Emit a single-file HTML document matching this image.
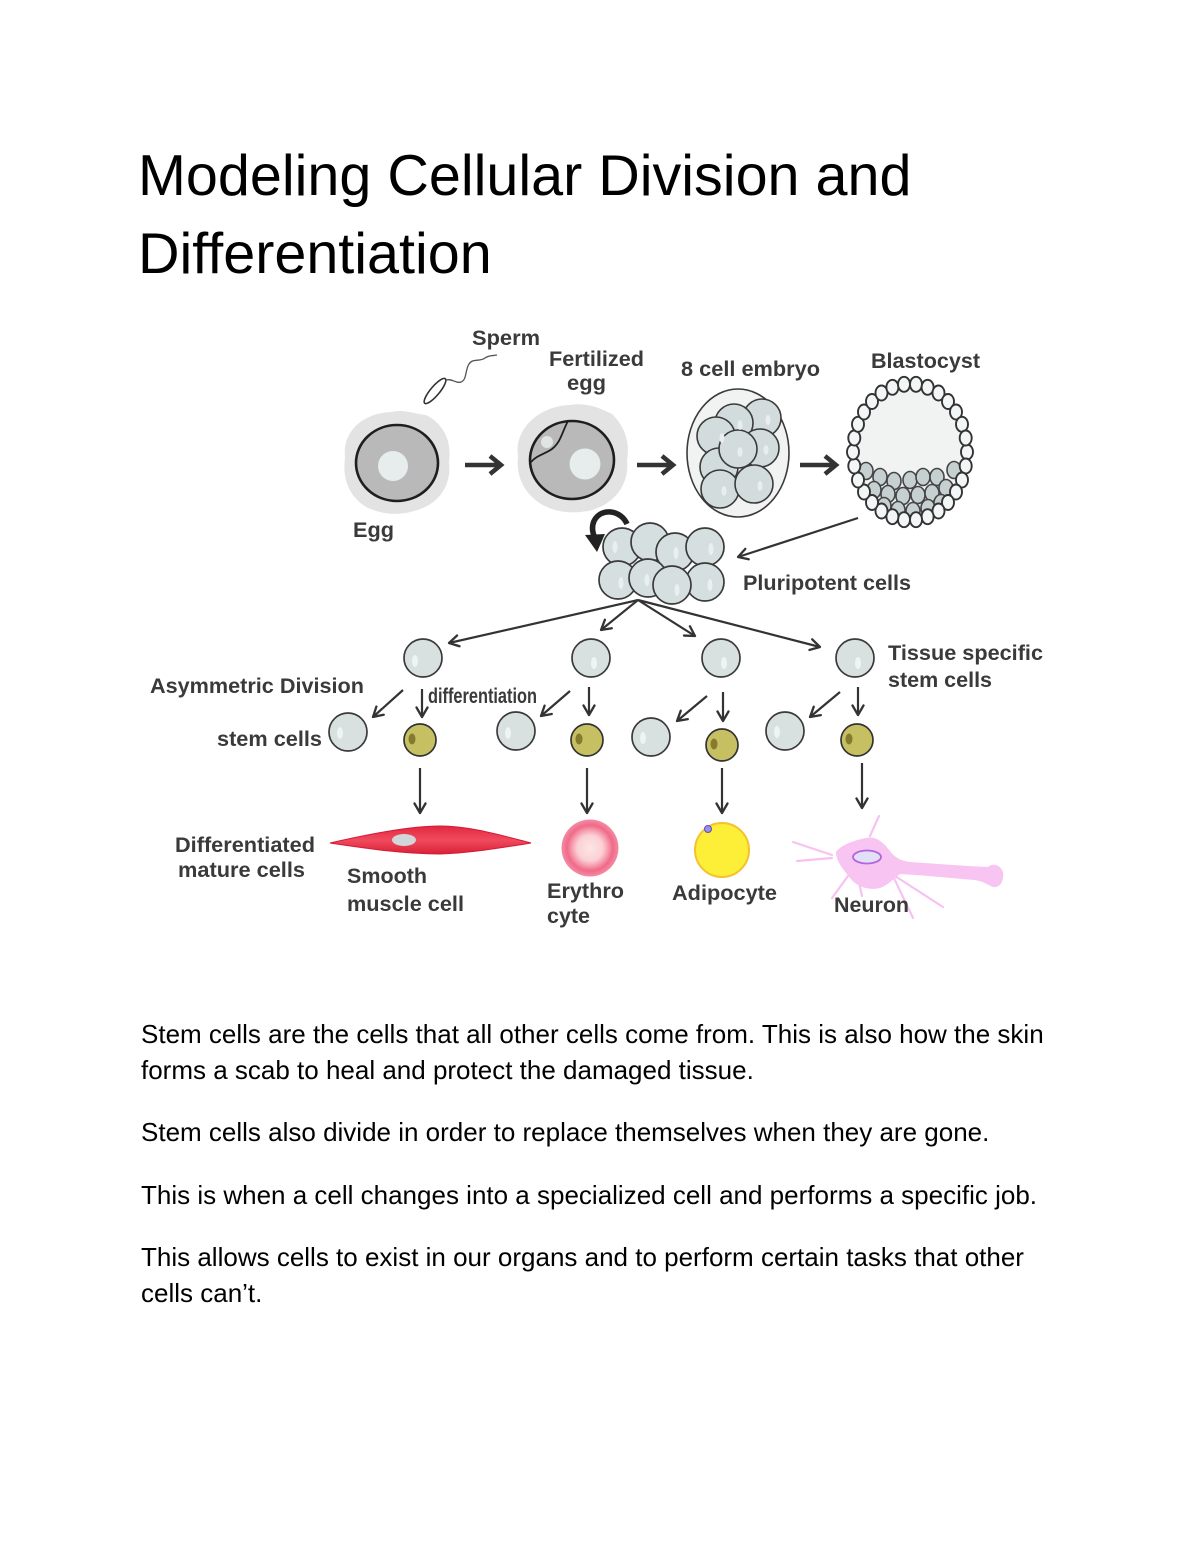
<!DOCTYPE html>
<html>
<head>
<meta charset="utf-8">
<style>
  html,body{margin:0;padding:0;background:#fff;}
  body{width:1200px;height:1553px;overflow:hidden;}
  svg{display:block;}
  .t{font-family:"Liberation Sans",Arial,sans-serif;fill:#000;}
  .l{font-family:"Liberation Sans",Arial,sans-serif;font-weight:bold;fill:#3a3a3a;font-size:21.5px;}
</style>
</head>
<body>
<svg width="1200" height="1553" viewBox="0 0 1200 1553" xmlns="http://www.w3.org/2000/svg">
  <defs>
    <marker id="ah" markerUnits="userSpaceOnUse" markerWidth="16" markerHeight="16" refX="11" refY="7" orient="auto">
      <path d="M1.5,1.5 L11,7 L1.5,12.5" fill="none" stroke="#333" stroke-width="2.3" stroke-linecap="round" stroke-linejoin="round"/>
    </marker>
    <radialGradient id="ery" cx="50%" cy="50%" r="50%">
      <stop offset="0" stop-color="#fde6e6"/>
      <stop offset="0.45" stop-color="#fbd0d4"/>
      <stop offset="0.62" stop-color="#f7a0b2"/>
      <stop offset="0.8" stop-color="#f06a88"/>
      <stop offset="1" stop-color="#f38ca4"/>
    </radialGradient>
    <linearGradient id="sm" x1="0" y1="0" x2="0" y2="1">
      <stop offset="0" stop-color="#e02840"/>
      <stop offset="0.5" stop-color="#f04a5e"/>
      <stop offset="1" stop-color="#d92038"/>
    </linearGradient>
  </defs>

  <!-- Title -->
  <text class="t" x="138" y="195" font-size="57.5">Modeling Cellular Division and</text>
  <text class="t" x="138" y="273" font-size="57.5">Differentiation</text>

  <!-- Labels top -->
  <text class="l" x="472" y="345" textLength="68" lengthAdjust="spacingAndGlyphs">Sperm</text>
  <text class="l" x="549" y="366" textLength="95" lengthAdjust="spacingAndGlyphs">Fertilized</text>
  <text class="l" x="567" y="390" textLength="39" lengthAdjust="spacingAndGlyphs">egg</text>
  <text class="l" x="681" y="376" textLength="139" lengthAdjust="spacingAndGlyphs">8 cell embryo</text>
  <text class="l" x="871" y="368" textLength="109" lengthAdjust="spacingAndGlyphs">Blastocyst</text>
  <text class="l" x="353" y="537" textLength="41" lengthAdjust="spacingAndGlyphs">Egg</text>

  <!-- Sperm -->
  <ellipse cx="435" cy="391" rx="16" ry="4.5" transform="rotate(-50 435 391)" fill="#fff" stroke="#333" stroke-width="1.6"/>
  <path d="M446,380 C452,378 456,384 461,382 C467,380 465,370 469,364 C473,358 480,362 485,358 C489,355 492,356 497,355" fill="none" stroke="#555" stroke-width="1.3"/>

  <!-- Egg -->
  <path d="M345,458 C342,432 362,413 392,412 C404,409 414,414 426,415 C444,424 452,442 449,462 C452,486 438,505 414,511 C398,516 382,514 368,508 C350,498 342,480 345,458 Z" fill="#e3e3e3"/>
  <ellipse cx="397" cy="463" rx="41" ry="38" fill="#b9b9b9" stroke="#1e1e1e" stroke-width="2.6"/>
  <circle cx="393" cy="466" r="15" fill="#e7eded"/>

  <!-- arrow 1 -->
  <path d="M465,465 H500 M490,456 L501,465 L490,474" fill="none" stroke="#333" stroke-width="4.5"/>

  <!-- Fertilized egg -->
  <path d="M518,456 C514,430 538,406 570,405 C586,402 600,408 612,414 C626,428 630,444 627,460 C630,486 612,506 588,511 C570,514 552,512 538,502 C522,490 516,474 518,456 Z" fill="#e3e3e3"/>
  <ellipse cx="572" cy="460" rx="42" ry="39" fill="#b9b9b9" stroke="#1e1e1e" stroke-width="2.6"/>
  <circle cx="585" cy="464" r="15.5" fill="#e7eded"/>
  <circle cx="547" cy="442" r="6" fill="#dfe5e5"/>
  <path d="M568,421 C562,432 561,442 552,449 C545,454 537,455 531,462" fill="none" stroke="#1e1e1e" stroke-width="1.8"/>

  <!-- arrow 2 -->
  <path d="M637,465 H672 M662,456 L673,465 L662,474" fill="none" stroke="#333" stroke-width="4.5"/>

  <!-- 8 cell embryo -->
  <ellipse cx="738" cy="453" rx="51" ry="64" fill="#f1f3f3" stroke="#3a3a3a" stroke-width="1.6"/>
  <g fill="#d3dcdc" stroke="#3a3a3a" stroke-width="1.6">
    <circle cx="762" cy="418" r="19"/>
    <circle cx="734" cy="423" r="19"/>
    <circle cx="760" cy="448" r="19"/>
    <circle cx="716" cy="436" r="19"/>
    <circle cx="719" cy="467" r="19"/>
    <circle cx="720" cy="489" r="19"/>
    <circle cx="738" cy="449" r="19"/>
    <circle cx="754" cy="484" r="19"/>
  </g>
  <g fill="#e8eeee">
    <ellipse cx="768" cy="420" rx="2.5" ry="5"/>
    <ellipse cx="740" cy="425" rx="2.5" ry="5"/>
    <ellipse cx="766" cy="450" rx="2.5" ry="5"/>
    <ellipse cx="722" cy="438" rx="2.5" ry="5"/>
    <ellipse cx="724" cy="491" rx="2.5" ry="5"/>
    <ellipse cx="740" cy="452" rx="2.5" ry="5"/>
    <ellipse cx="760" cy="486" rx="2.5" ry="5"/>
  </g>

  <!-- arrow 3 -->
  <path d="M800,465 H835 M825,456 L836,465 L825,474" fill="none" stroke="#333" stroke-width="4.5"/>

  <!-- Blastocyst -->
  <ellipse cx="910" cy="452" rx="55" ry="66" fill="#f1f3f3"/>
  <g fill="#c6d0d0" stroke="#444" stroke-width="1.6">
    <ellipse cx="866" cy="471" rx="7" ry="8.5"/>
    <ellipse cx="880" cy="477" rx="7" ry="8.5"/>
    <ellipse cx="894" cy="481" rx="7" ry="8.5"/>
    <ellipse cx="910" cy="480" rx="7" ry="8.5"/>
    <ellipse cx="923" cy="477" rx="7" ry="8.5"/>
    <ellipse cx="937" cy="477" rx="7" ry="8.5"/>
    <ellipse cx="954" cy="470" rx="7" ry="8.5"/>
    <ellipse cx="874" cy="490" rx="7" ry="8.5"/>
    <ellipse cx="888" cy="494" rx="7" ry="8.5"/>
    <ellipse cx="903" cy="496" rx="7" ry="8.5"/>
    <ellipse cx="918" cy="495" rx="7" ry="8.5"/>
    <ellipse cx="932" cy="493" rx="7" ry="8.5"/>
    <ellipse cx="946" cy="488" rx="7" ry="8.5"/>
    <ellipse cx="884" cy="506" rx="7" ry="8.5"/>
    <ellipse cx="898" cy="510" rx="7" ry="8.5"/>
    <ellipse cx="913" cy="511" rx="7" ry="8.5"/>
    <ellipse cx="928" cy="508" rx="7" ry="8.5"/>
    <ellipse cx="941" cy="503" rx="7" ry="8.5"/>
  </g>
  <g fill="#f3f6f6" stroke="#333" stroke-width="1.9">
    <ellipse cx="967" cy="452" rx="6" ry="7.5"/>
    <ellipse cx="965.7" cy="466" rx="6" ry="7.5"/>
    <ellipse cx="962" cy="480" rx="6" ry="7.5"/>
    <ellipse cx="956" cy="492" rx="6" ry="7.5"/>
    <ellipse cx="948" cy="502.5" rx="6" ry="7.5"/>
    <ellipse cx="938.5" cy="511" rx="6" ry="7.5"/>
    <ellipse cx="927.6" cy="516.7" rx="6" ry="7.5"/>
    <ellipse cx="916" cy="519.7" rx="6" ry="7.5"/>
    <ellipse cx="904" cy="519.7" rx="6" ry="7.5"/>
    <ellipse cx="892.4" cy="516.7" rx="6" ry="7.5"/>
    <ellipse cx="881.5" cy="511" rx="6" ry="7.5"/>
    <ellipse cx="872" cy="502.5" rx="6" ry="7.5"/>
    <ellipse cx="864" cy="492" rx="6" ry="7.5"/>
    <ellipse cx="858" cy="480" rx="6" ry="7.5"/>
    <ellipse cx="854.3" cy="466" rx="6" ry="7.5"/>
    <ellipse cx="853" cy="452" rx="6" ry="7.5"/>
    <ellipse cx="854.3" cy="438" rx="6" ry="7.5"/>
    <ellipse cx="858" cy="424.3" rx="6" ry="7.5"/>
    <ellipse cx="864" cy="412" rx="6" ry="7.5"/>
    <ellipse cx="872" cy="401.5" rx="6" ry="7.5"/>
    <ellipse cx="881.5" cy="393" rx="6" ry="7.5"/>
    <ellipse cx="892.4" cy="387.3" rx="6" ry="7.5"/>
    <ellipse cx="904" cy="384.3" rx="6" ry="7.5"/>
    <ellipse cx="916" cy="384.3" rx="6" ry="7.5"/>
    <ellipse cx="927.6" cy="387.3" rx="6" ry="7.5"/>
    <ellipse cx="938.5" cy="393" rx="6" ry="7.5"/>
    <ellipse cx="948" cy="401.5" rx="6" ry="7.5"/>
    <ellipse cx="956" cy="412" rx="6" ry="7.5"/>
    <ellipse cx="962" cy="424.3" rx="6" ry="7.5"/>
    <ellipse cx="965.7" cy="438" rx="6" ry="7.5"/>
  </g>

  <!-- blastocyst -> pluripotent arrow -->
  <line x1="858" y1="518" x2="738" y2="557" stroke="#333" stroke-width="2.2" marker-end="url(#ah)"/>

  <!-- curved arrow -->
  <path d="M627,524 C621,510 601,507 594,521 C591,528 593,534 595,538" fill="none" stroke="#222" stroke-width="5.5"/>
  <path d="M585,535 L605,534 L597,552 Z" fill="#222"/>

  <!-- Pluripotent cells -->
  <g fill="#d5dfdf" stroke="#3a3a3a" stroke-width="1.7">
    <circle cx="622" cy="547" r="19"/>
    <circle cx="650" cy="542" r="19"/>
    <circle cx="675" cy="552" r="19"/>
    <circle cx="705" cy="547" r="19"/>
    <circle cx="618" cy="580" r="19"/>
    <circle cx="648" cy="578" r="19"/>
    <circle cx="705" cy="582" r="19"/>
    <circle cx="672" cy="585" r="19"/>
  </g>
  <g fill="#eaf0f0">
    <ellipse cx="615" cy="547" rx="2.5" ry="6"/>
    <ellipse cx="711" cy="549" rx="2.5" ry="6"/>
    <ellipse cx="676" cy="553" rx="2.5" ry="6"/>
    <ellipse cx="621" cy="583" rx="2.5" ry="6"/>
    <ellipse cx="647" cy="580" rx="2.5" ry="6"/>
    <ellipse cx="677" cy="590" rx="2.5" ry="6"/>
    <ellipse cx="710" cy="585" rx="2.5" ry="6"/>
  </g>
  <text class="l" x="743" y="590" textLength="168" lengthAdjust="spacingAndGlyphs">Pluripotent cells</text>

  <!-- branch arrows -->
  <g stroke="#333" stroke-width="2.2" fill="none">
    <line x1="638" y1="600" x2="449" y2="643" marker-end="url(#ah)"/>
    <line x1="638" y1="600" x2="601" y2="630" marker-end="url(#ah)"/>
    <line x1="638" y1="600" x2="695" y2="636" marker-end="url(#ah)"/>
    <line x1="638" y1="600" x2="820" y2="647" marker-end="url(#ah)"/>
  </g>

  <!-- tissue specific stem cells -->
  <g fill="#d8e0e0" stroke="#3a3a3a" stroke-width="1.7">
    <circle cx="423" cy="658" r="19"/>
    <circle cx="591" cy="658" r="19"/>
    <circle cx="721" cy="658" r="19"/>
    <circle cx="855" cy="658" r="19"/>
    <circle cx="348" cy="732" r="19"/>
    <circle cx="516" cy="731" r="19"/>
    <circle cx="651" cy="737" r="19"/>
    <circle cx="785" cy="731" r="19"/>
  </g>
  <g fill="#eef3f3">
    <ellipse cx="415" cy="661" rx="3" ry="6"/>
    <ellipse cx="594" cy="663" rx="3" ry="6"/>
    <ellipse cx="724" cy="663" rx="3" ry="6"/>
    <ellipse cx="858" cy="663" rx="3" ry="6"/>
    <ellipse cx="340" cy="733" rx="3" ry="6"/>
    <ellipse cx="508" cy="733" rx="3" ry="6"/>
    <ellipse cx="643" cy="738" rx="3" ry="6"/>
    <ellipse cx="777" cy="732" rx="3" ry="6"/>
  </g>
  <text class="l" x="888" y="660" textLength="155" lengthAdjust="spacingAndGlyphs">Tissue specific</text>
  <text class="l" x="888" y="687" textLength="104" lengthAdjust="spacingAndGlyphs">stem cells</text>
  <text class="l" x="150" y="693" textLength="214" lengthAdjust="spacingAndGlyphs">Asymmetric Division</text>
  <text class="l" x="217" y="746" textLength="105" lengthAdjust="spacingAndGlyphs">stem cells</text>
  <text class="l" x="428" y="703" font-size="16" textLength="109" lengthAdjust="spacingAndGlyphs">differentiation</text>

  <!-- olive differentiated progenitors -->
  <g fill="#c7c062" stroke="#333" stroke-width="1.7">
    <circle cx="420" cy="740" r="16"/>
    <circle cx="587" cy="740" r="16"/>
    <circle cx="722" cy="745" r="16"/>
    <circle cx="857" cy="740" r="16"/>
  </g>
  <g fill="#857a2e">
    <ellipse cx="412" cy="739" rx="3.5" ry="5.5"/>
    <ellipse cx="579" cy="739" rx="3.5" ry="5.5"/>
    <ellipse cx="714" cy="744" rx="3.5" ry="5.5"/>
    <ellipse cx="849" cy="739" rx="3.5" ry="5.5"/>
  </g>

  <!-- small arrows -->
  <g stroke="#333" stroke-width="2.2" fill="none">
    <line x1="403" y1="690" x2="373" y2="717" marker-end="url(#ah)"/>
    <line x1="422" y1="689" x2="422" y2="717" marker-end="url(#ah)"/>
    <line x1="570" y1="691" x2="541" y2="716" marker-end="url(#ah)"/>
    <line x1="589" y1="687" x2="589" y2="715" marker-end="url(#ah)"/>
    <line x1="707" y1="696" x2="677" y2="721" marker-end="url(#ah)"/>
    <line x1="723" y1="692" x2="723" y2="721" marker-end="url(#ah)"/>
    <line x1="840" y1="692" x2="810" y2="717" marker-end="url(#ah)"/>
    <line x1="858" y1="687" x2="858" y2="715" marker-end="url(#ah)"/>
    <line x1="420" y1="768" x2="420" y2="813" marker-end="url(#ah)"/>
    <line x1="587" y1="768" x2="587" y2="813" marker-end="url(#ah)"/>
    <line x1="722" y1="768" x2="722" y2="813" marker-end="url(#ah)"/>
    <line x1="862" y1="763" x2="862" y2="808" marker-end="url(#ah)"/>
  </g>

  <!-- Smooth muscle -->
  <path d="M330,843 C370,834 410,826 440,826 C470,826 500,835 531,843 C500,848 470,853 440,854 C405,854 370,849 330,843 Z" fill="url(#sm)" stroke="#d41a34" stroke-width="1"/>
  <ellipse cx="404" cy="840" rx="12" ry="6" fill="#d2d6d8"/>

  <!-- Erythrocyte -->
  <circle cx="590" cy="848" r="28.5" fill="url(#ery)"/>

  <!-- Adipocyte -->
  <circle cx="722" cy="850" r="27" fill="#fdee38" stroke="#f4c22c" stroke-width="2"/>
  <circle cx="708" cy="829" r="3.5" fill="#9a90e6" stroke="#5a4ec4" stroke-width="1"/>

  <!-- Neuron -->
  <g stroke="#f7c2f2" stroke-width="2.2" fill="none" stroke-linecap="round">
    <path d="M832,855 L793,842"/>
    <path d="M832,858 L797,861"/>
    <path d="M870,836 L879,816"/>
    <path d="M848,876 L832,898"/>
    <path d="M858,878 L862,896"/>
    <path d="M893,876 L913,918"/>
    <path d="M895,876 L943,907"/>
  </g>
  <path d="M836,852 C842,844 856,840 866,838 C874,836 880,840 886,846 C892,854 896,860 910,862 C940,864 965,866 988,867 C992,863 1000,864 1003,872 C1004,882 1000,888 993,887 C986,884 985,882 975,880 C950,878 920,875 900,874 C894,878 890,884 880,888 C868,891 856,886 850,878 C844,870 836,862 836,852 Z" fill="#f8c4f2"/>
  <ellipse cx="867" cy="857" rx="14" ry="6.5" fill="#e2e0f6" stroke="#b464dc" stroke-width="1.8"/>

  <text class="l" x="175" y="852" textLength="140" lengthAdjust="spacingAndGlyphs">Differentiated</text>
  <text class="l" x="178" y="877" textLength="127" lengthAdjust="spacingAndGlyphs">mature cells</text>
  <text class="l" x="347" y="883" textLength="80" lengthAdjust="spacingAndGlyphs">Smooth</text>
  <text class="l" x="347" y="911" textLength="117" lengthAdjust="spacingAndGlyphs">muscle cell</text>
  <text class="l" x="547" y="898" textLength="77" lengthAdjust="spacingAndGlyphs">Erythro</text>
  <text class="l" x="547" y="923" textLength="43" lengthAdjust="spacingAndGlyphs">cyte</text>
  <text class="l" x="672" y="900" textLength="105" lengthAdjust="spacingAndGlyphs">Adipocyte</text>
  <text class="l" x="834" y="912" textLength="75" lengthAdjust="spacingAndGlyphs">Neuron</text>

  <!-- Body text -->
  <g class="t" font-size="26">
    <text x="141" y="1043">Stem cells are the cells that all other cells come from. This is also how the skin</text>
    <text x="141" y="1079">forms a scab to heal and protect the damaged tissue.</text>
    <text x="141" y="1141">Stem cells also divide in order to replace themselves when they are gone.</text>
    <text x="141" y="1204">This is when a cell changes into a specialized cell and performs a specific job.</text>
    <text x="141" y="1266">This allows cells to exist in our organs and to perform certain tasks that other</text>
    <text x="141" y="1302">cells can’t.</text>
  </g>
</svg>
</body>
</html>
